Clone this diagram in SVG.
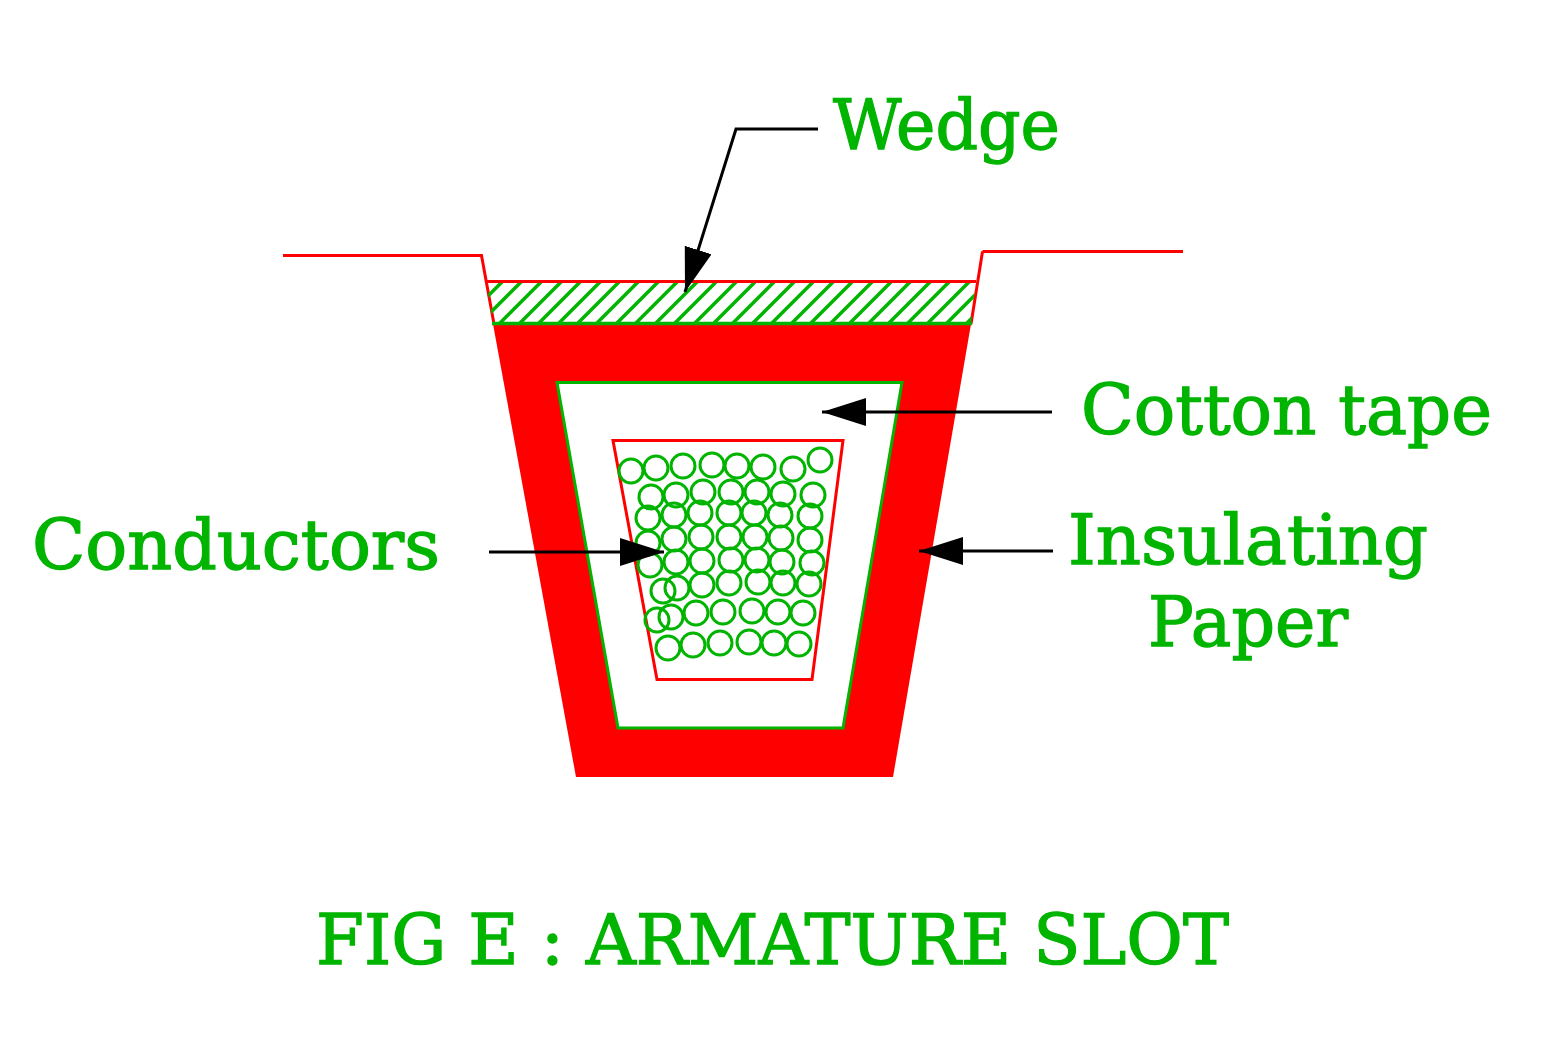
<svg xmlns="http://www.w3.org/2000/svg" width="1542" height="1041" viewBox="0 0 1542 1041">
<style>
text{font-family:"DejaVu Serif","Liberation Serif",serif;font-size:70px;fill:#00b400;stroke:#00b400;stroke-width:1.3}
.r{fill:none;stroke:#ff0000;stroke-width:3}
.g{fill:none;stroke:#00b400;stroke-width:3.500}
.h{stroke:#00b400;stroke-width:3.500}
.c{fill:none;stroke:#00b400;stroke-width:3}
.l{fill:none;stroke:#000;stroke-width:3}
</style>
<defs>
<marker id="a" markerUnits="userSpaceOnUse" markerWidth="46" markerHeight="30" refX="44" refY="14" orient="auto"><path d="M0 0L44 14L0 28Z" fill="#000"/></marker>
<clipPath id="wc"><path d="M486 281H976L971 323H493Z"/></clipPath>
</defs>
<rect width="1542" height="1041" fill="#fff"/>
<g id="slot">
<path class="r" d="M283 255.500H481.500L494 324M982.500 251.500H1183M982.500 251.500L971 324"/>
</g>
<g id="insulating-paper">
<path fill="#ff0000" d="M493 324H971L893 777H576Z"/>
<path fill="#fff" stroke="#00b400" stroke-width="3" d="M557 382.500H902L843 728H618Z"/>
</g>
<g id="wedge">
<path class="h" clip-path="url(#wc)" d="M480 304L503 281M480 323L522 281M500 323L542 281M520 323L562 281M539 323L581 281M559 323L601 281M578 323L620 281M597 323L639 281M617 323L659 281M636 323L678 281M656 323L698 281M675 323L717 281M695 323L737 281M714 323L756 281M733 323L775 281M753 323L795 281M772 323L814 281M792 323L834 281M811 323L853 281M831 323L873 281M850 323L892 281M869 323L911 281M889 323L931 281M908 323L950 281M928 323L970 281M947 323L989 281M967 323L1009 281"/>
<path class="r" d="M486 281.500H976"/>
<path class="g" d="M492 323.500H972"/>
</g>
<g id="conductors">
<path class="r" d="M613 440.500H843L812 679.500H657Z"/>
<g class="c">
<circle cx="631" cy="471" r="12"/><circle cx="656" cy="468" r="12"/><circle cx="683" cy="466" r="12"/><circle cx="712" cy="465" r="12"/><circle cx="737" cy="466" r="12"/><circle cx="763" cy="467" r="12"/><circle cx="793" cy="469" r="12"/><circle cx="820" cy="460" r="12"/>
<circle cx="651" cy="497" r="12"/><circle cx="676" cy="495" r="12"/><circle cx="703" cy="492" r="12"/><circle cx="731" cy="492" r="12"/><circle cx="757" cy="492" r="12"/><circle cx="783" cy="494" r="12"/><circle cx="813" cy="495" r="12"/>
<circle cx="648" cy="518" r="12"/><circle cx="674" cy="515" r="12"/><circle cx="700" cy="513" r="12"/><circle cx="729" cy="513" r="12"/><circle cx="754" cy="513" r="12"/><circle cx="780" cy="515" r="12"/><circle cx="810" cy="516" r="12"/>
<circle cx="648" cy="543" r="12"/><circle cx="674" cy="539" r="12"/><circle cx="701" cy="537" r="12"/><circle cx="729" cy="537" r="12"/><circle cx="755" cy="537" r="12"/><circle cx="781" cy="538" r="12"/><circle cx="810" cy="540" r="12"/>
<circle cx="650" cy="565" r="12"/><circle cx="676" cy="562" r="12"/><circle cx="702" cy="561" r="12"/><circle cx="731" cy="560" r="12"/><circle cx="757" cy="560" r="12"/><circle cx="782" cy="562" r="12"/><circle cx="812" cy="563" r="12"/>
<circle cx="663" cy="591" r="12"/><circle cx="677" cy="588" r="12"/><circle cx="702" cy="585" r="12"/><circle cx="729" cy="583" r="12"/><circle cx="758" cy="582" r="12"/><circle cx="783" cy="583" r="12"/><circle cx="809" cy="584" r="12"/>
<circle cx="657" cy="620" r="12"/><circle cx="671" cy="617" r="12"/><circle cx="696" cy="613" r="12"/><circle cx="723" cy="612" r="12"/><circle cx="752" cy="611" r="12"/><circle cx="778" cy="612" r="12"/><circle cx="803" cy="613" r="12"/>
<circle cx="668" cy="648" r="12"/><circle cx="693" cy="645" r="12"/><circle cx="720" cy="643" r="12"/><circle cx="749" cy="642" r="12"/><circle cx="774" cy="643" r="12"/><circle cx="799" cy="644" r="12"/>
</g>
</g>
<g id="connectors">
<path class="l" marker-end="url(#a)" d="M818 129H736L685 292"/>
<path class="l" marker-end="url(#a)" d="M1052 412H822"/>
<path class="l" marker-end="url(#a)" d="M489 552H664"/>
<path class="l" marker-end="url(#a)" d="M1053 551H919"/>
</g>
<g id="labels">
<text x="833" y="149" textLength="227" lengthAdjust="spacingAndGlyphs">Wedge</text>
<text x="1081" y="434" textLength="411" lengthAdjust="spacingAndGlyphs">Cotton tape</text>
<text x="32" y="569" textLength="408" lengthAdjust="spacingAndGlyphs">Conductors</text>
<text x="1068" y="564" textLength="360" lengthAdjust="spacingAndGlyphs">Insulating</text>
<text x="1148" y="646" textLength="200" lengthAdjust="spacingAndGlyphs">Paper</text>
<text x="316" y="964" textLength="913" lengthAdjust="spacingAndGlyphs">FIG E : ARMATURE SLOT</text>
</g>
</svg>
